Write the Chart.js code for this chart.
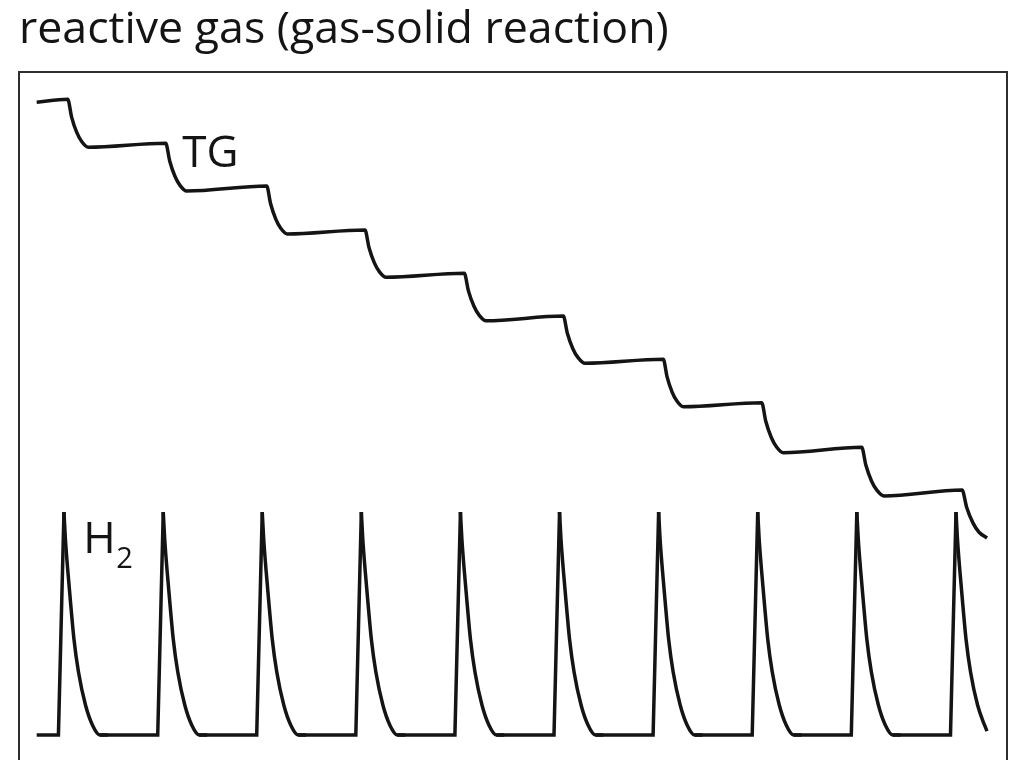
<!DOCTYPE html>
<html>
<head>
<meta charset="utf-8">
<script src="https://cdn.jsdelivr.net/npm/chart.js@4"></script>
<style>
  html, body { margin: 0; padding: 0; background: #ffffff; overflow: hidden; }
  #wrap { position: relative; width: 1013px; height: 760px; }
</style>
</head>
<body>
<div id="wrap"><canvas id="c"></canvas></div>
<script>
// ---------------- DATA (time in min, signals in relative units) ----------------
const titleText = 'reactive gas (gas-solid reaction)';

// TG: start point, top corner of each mass-loss step, and end of each step
const tgStartTime = 1.79;
const tgStartMass = 95.60;
const tgCornerTime = [4.93, 14.85, 25.07, 35.02, 45.07, 55.09, 65.21, 75.17, 85.29, 95.45];
const tgCornerMass = [96.03, 89.64, 83.43, 77.03, 70.74, 64.53, 58.24, 51.93, 45.45, 39.24];
const tgBottomTime = [7.01, 16.97, 27.16, 37.15, 47.27, 57.29, 67.24, 77.36, 87.55, 97.98];
const tgBottomMass = [89.06, 82.70, 76.45, 70.16, 63.85, 57.66, 51.35, 44.67, 38.37, 32.27];
// shape of one step (fraction of step duration / fraction of mass loss)
const tgStepTimeFrac = [0.19, 0.44, 0.68];
const tgStepMassFrac = [0.37, 0.69, 0.88];

// H2 pulses
const h2StartTime = 1.79;
const h2Baseline = 3.63;
const h2PeakTime = [4.55, 14.60, 24.62, 34.65, 44.68, 54.71, 64.74, 74.77, 84.80, 94.84];
const h2PeakValue = [36.05, 36.05, 36.05, 36.05, 36.05, 36.05, 36.05, 36.05, 36.05, 36.05];
const h2RiseLead = 0.56;                       // min between rise start and peak
const h2DecayOffset = [0, 0.14, 0.40, 0.69, 1.01, 1.47, 2.18, 2.88, 3.64];   // min after peak
const h2DecayValue = [36.05, 32.27, 27.33, 22.53, 17.59, 12.79, 7.99, 5.09, 3.63];
const h2EndTime = 97.98;
const h2EndValue = 4.2;

// ---------------- build library tables ----------------
const tgPoints = [{x: tgStartTime, y: tgStartMass}];
for (let i = 0; i < tgCornerTime.length; i++) {
  const t0 = tgCornerTime[i], m0 = tgCornerMass[i];
  const t1 = tgBottomTime[i], m1 = tgBottomMass[i];
  tgPoints.push({x: t0, y: m0});
  for (let k = 0; k < tgStepTimeFrac.length; k++) {
    tgPoints.push({x: t0 + (t1 - t0) * tgStepTimeFrac[k], y: m0 + (m1 - m0) * tgStepMassFrac[k]});
  }
  tgPoints.push({x: t1, y: m1});
}

// baseline + straight rise segments
const h2Rise = [{x: h2StartTime, y: h2Baseline}];
// curved decay segments
const h2Decay = [];
for (let i = 0; i < h2PeakTime.length; i++) {
  const tp = h2PeakTime[i];
  if (i > 0) h2Rise.push({x: h2PeakTime[i - 1] + h2DecayOffset[h2DecayOffset.length - 1], y: h2Baseline});
  h2Rise.push({x: tp - h2RiseLead, y: h2Baseline});
  h2Rise.push({x: tp, y: h2PeakValue[i]});
  h2Rise.push({x: tp + 0.01, y: null});
  for (let k = 0; k < h2DecayOffset.length; k++) {
    const t = tp + h2DecayOffset[k];
    if (t >= h2EndTime) break;
    h2Decay.push({x: t, y: k === 0 ? h2PeakValue[i] : h2DecayValue[k]});
  }
  if (tp + h2DecayOffset[h2DecayOffset.length - 1] < h2EndTime) {
    h2Decay.push({x: tp + h2DecayOffset[h2DecayOffset.length - 1] + 0.8, y: h2Baseline});
  } else {
    h2Decay.push({x: h2EndTime, y: h2EndValue});
  }
  h2Decay.push({x: tp + 5, y: null});
}

// ---------------- styling ----------------
const INK = '#141414';
const labelDefs = [
  {text: 'TG', t: 16.53, v: 86.24, size: 44},
  {text: 'H',  t: 6.91,  v: 30.04, size: 44},
  {text: '2',  t: 9.95,  v: 27.86, size: 29}
];

const framePlugin = {
  id: 'frame',
  afterDatasetsDraw(chart) {
    const {ctx, chartArea: a} = chart;
    ctx.save();
    ctx.strokeStyle = '#2e2e2e';
    ctx.lineWidth = 2;
    ctx.beginPath();
    ctx.moveTo(a.left, a.bottom + 5);
    ctx.lineTo(a.left, a.top);
    ctx.lineTo(a.right, a.top);
    ctx.lineTo(a.right, a.bottom + 5);
    ctx.stroke();
    ctx.restore();
  }
};

const labelPlugin = {
  id: 'curveLabels',
  afterDatasetsDraw(chart) {
    const {ctx} = chart;
    const xs = chart.scales.x, ys = chart.scales.y;
    ctx.save();
    ctx.fillStyle = INK;
    ctx.textAlign = 'left';
    ctx.textBaseline = 'alphabetic';
    labelDefs.forEach(d => {
      ctx.font = `400 ${d.size}px "Open Sans"`;
      const m = ctx.measureText(d.text);
      const x = xs.getPixelForValue(d.t) + m.actualBoundingBoxLeft;
      ctx.fillText(d.text, x, ys.getPixelForValue(d.v));
    });
    ctx.restore();
  }
};

const lineStyle = {
  borderColor: INK,
  borderWidth: 3.5,
  pointRadius: 0,
  fill: false,
  spanGaps: false
};

new Chart(document.getElementById('c'), {
  type: 'line',
  data: {
    datasets: [
      Object.assign({label: 'TG', data: tgPoints, cubicInterpolationMode: 'monotone'}, lineStyle),
      Object.assign({label: 'H2 rise', data: h2Rise, tension: 0}, lineStyle),
      Object.assign({label: 'H2 decay', data: h2Decay, cubicInterpolationMode: 'monotone'}, lineStyle)
    ]
  },
  options: {
    responsive: true,
    maintainAspectRatio: false,
    animation: false,
    layout: {padding: {left: 19, right: 6, top: 0, bottom: 0}},
    plugins: {
      legend: {display: false},
      tooltip: {enabled: false},
      title: {
        display: true,
        text: titleText,
        align: 'start',
        color: INK,
        font: {family: '"Open Sans"', size: 44.7, weight: '400', lineHeight: 1.2},
        padding: {top: 3.2, bottom: 15.2}
      }
    },
    scales: {
      x: {type: 'linear', min: 0, max: 100, display: false},
      y: {type: 'linear', min: 0, max: 100, display: false}
    }
  },
  plugins: [framePlugin, labelPlugin]
});
</script>
</body>
</html>
